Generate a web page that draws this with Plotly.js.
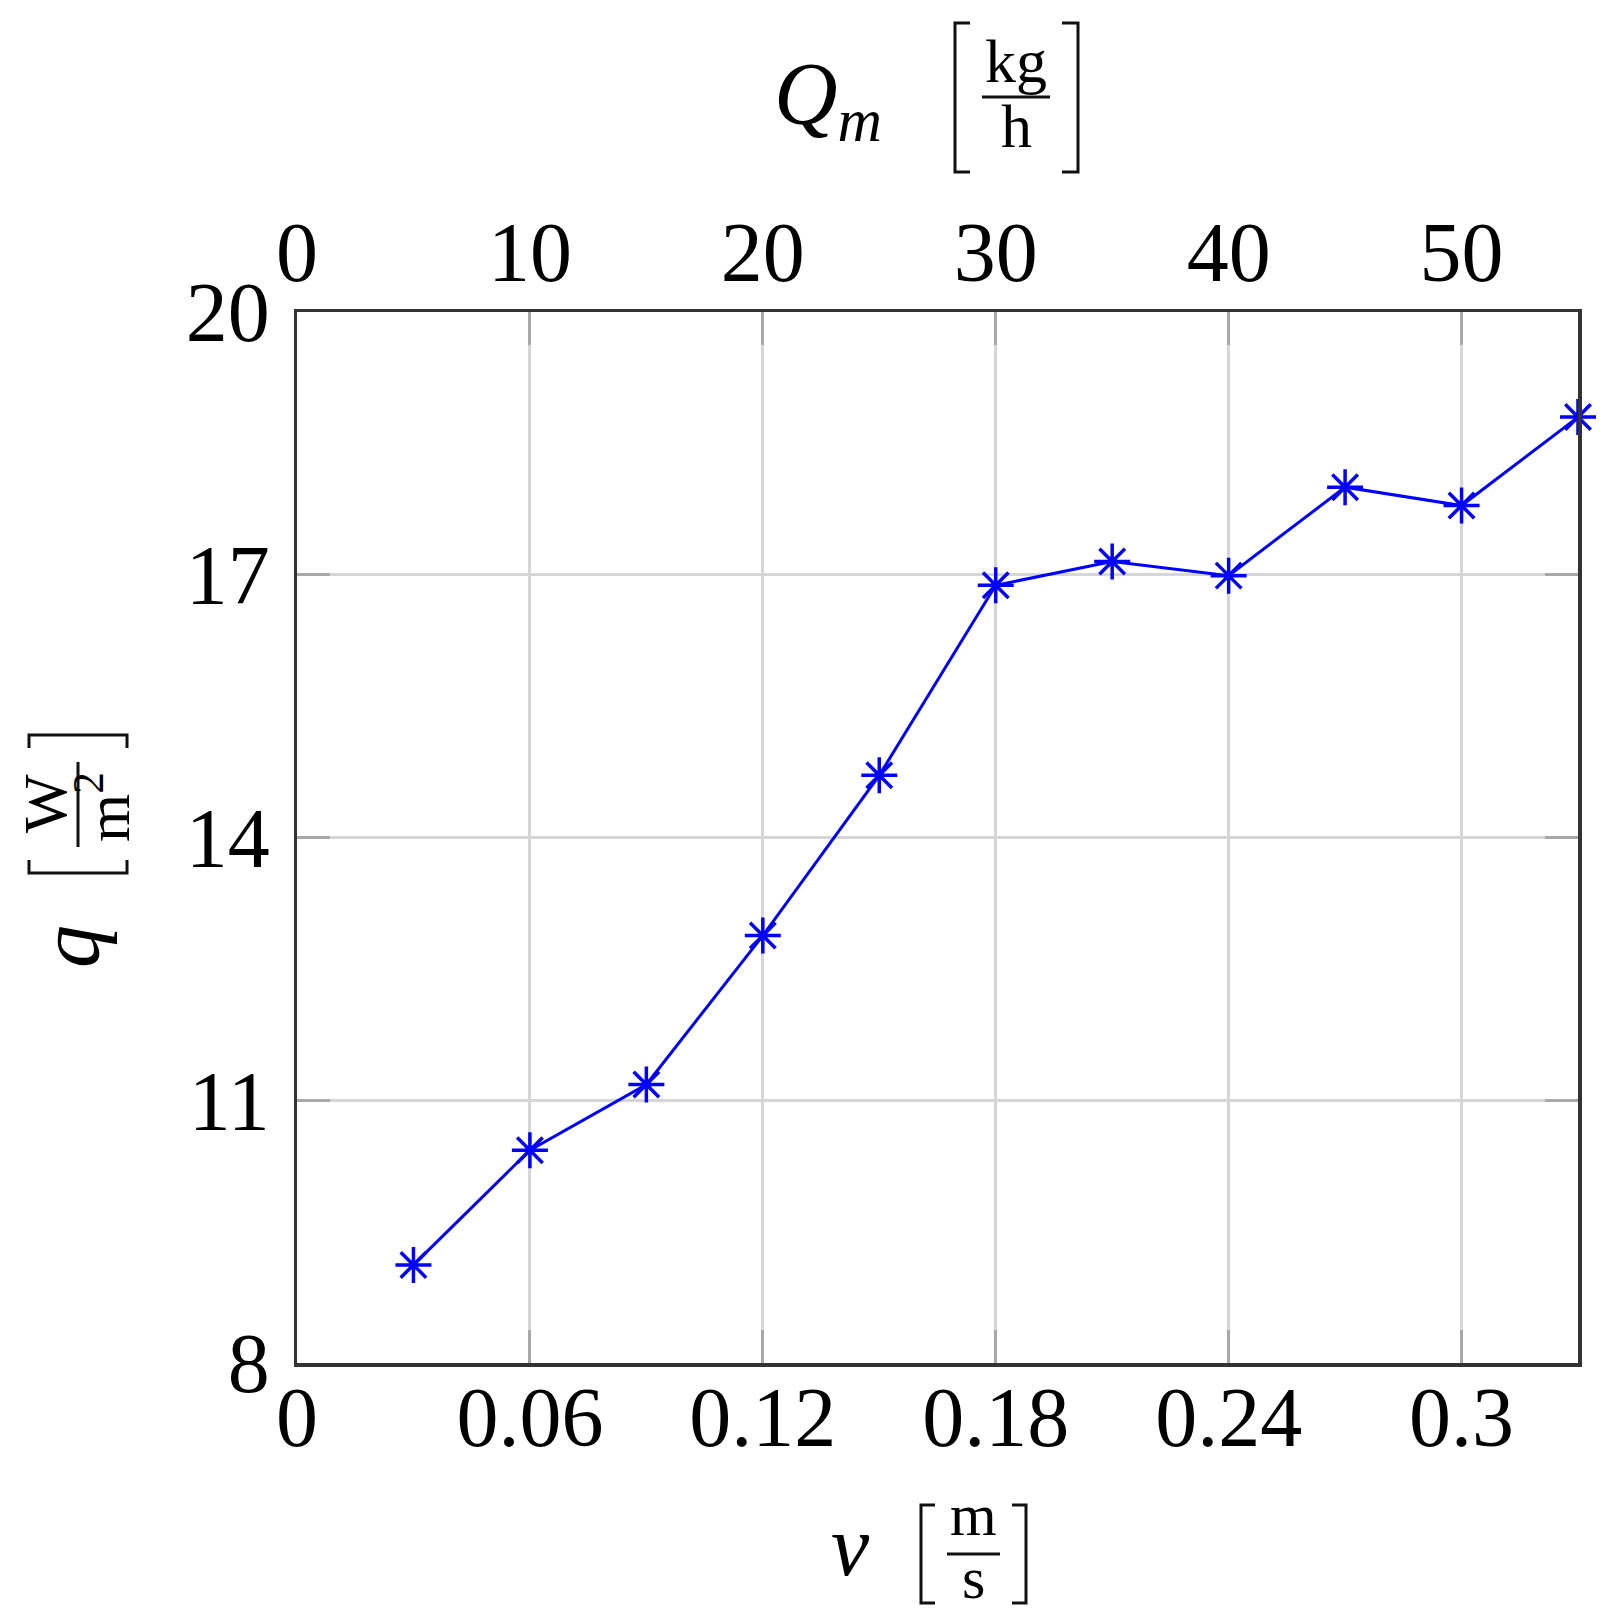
<!DOCTYPE html>
<html>
<head>
<meta charset="utf-8">
<script src="https://cdn.plot.ly/plotly-3.0.1.min.js"></script>
<style>html,body{margin:0;padding:0;background:#fff;}</style>
</head>
<body>
<div id="chart" style="width:1618px;height:1622px;"></div>
<script>
// ---- data ----
const velocity = [0.03, 0.06, 0.09, 0.12, 0.15, 0.18, 0.21, 0.24, 0.27, 0.30, 0.33];
const heatFlux = [9.12, 10.43, 11.18, 12.88, 14.71, 16.88, 17.15, 16.99, 18.00, 17.79, 18.80];
const vTicks = [0, 0.06, 0.12, 0.18, 0.24, 0.3];
const vTickLabels = ['0', '0.06', '0.12', '0.18', '0.24', '0.3'];
const qmRange = [0, 55];
const qmTicks = [0, 10, 20, 30, 40, 50];
const qTicks = [8, 11, 14, 17, 20];

// ---- layout helpers ----
const W = 1618, H = 1622;
const L = 297, R = 1578, T = 312, B = 1363;
const px = x => (x - L) / (R - L);
const py = y => (B - y) / (B - T);
const FONT = 'Liberation Serif, DejaVu Serif, serif';

function ann(text, x, y, size, angle) {
  return {text: text, x: px(x), y: py(y), xref: 'paper', yref: 'paper',
    showarrow: false, xanchor: 'center', yanchor: 'middle',
    textangle: angle || 0, font: {family: FONT, size: size, color: '#000'}};
}
function pathShape(pts) {
  let d = pts.map((p, i) => (i ? 'L ' : 'M ') + px(p[0]) + ' ' + py(p[1])).join(' ');
  return {type: 'path', path: d, xref: 'paper', yref: 'paper',
    line: {color: '#111', width: 3}};
}

const traces = [{
  x: velocity, y: heatFlux, type: 'scatter', mode: 'lines+markers',
  line: {color: '#0000ff', width: 3},
  marker: {symbol: 'asterisk-open', size: 30, color: '#0000ff', line: {color: '#0000ff', width: 3.5}},
  cliponaxis: false, hoverinfo: 'skip'
}, {
  x: [], y: [], xaxis: 'x2', yaxis: 'y', type: 'scatter', mode: 'markers',
  showlegend: false, hoverinfo: 'skip'
}];

const axisCommon = {
  showline: true, linecolor: '#333', linewidth: 3.5,
  ticks: 'inside', ticklen: 33, tickwidth: 3, tickcolor: '#a8a8a8',
  tickfont: {family: FONT, size: 84, color: '#000'},
  zeroline: false
};

const layout = {
  width: W, height: H, autosize: false,
  margin: {l: L, r: W - R, t: T, b: H - B, pad: 0},
  paper_bgcolor: '#fff', plot_bgcolor: '#fff',
  showlegend: false,
  xaxis: Object.assign({}, axisCommon, {
    range: [0, 0.33], tickvals: vTicks, ticktext: vTickLabels,
    showgrid: true, gridcolor: '#d6d6d6', gridwidth: 3,
    mirror: false, ticklabelstandoff: -21
  }),
  xaxis2: Object.assign({}, axisCommon, {
    range: qmRange, tickvals: qmTicks, overlaying: 'x', side: 'top', anchor: 'y',
    showgrid: false, ticklabelstandoff: -6
  }),
  yaxis: Object.assign({}, axisCommon, {
    range: [8, 20], tickvals: qTicks,
    showgrid: true, gridcolor: '#d6d6d6', gridwidth: 3,
    mirror: 'ticks', ticklabelstandoff: 7
  }),
  annotations: [
    // bottom title: v [m/s]
    ann('<i>v</i>', 850, 1546, 86),
    ann('m', 973, 1515, 60),
    ann('s', 973, 1578, 60),
    // top title: Q_m [kg/h]
    ann('<i>Q<sub>m</sub></i>', 828, 100, 88),
    ann('kg', 1016, 61, 62),
    ann('h', 1016, 126, 62),
    // left title: q [W/m^2]
    ann('<i>q</i>', 69, 947, 86, -90),
    ann('W', 45, 804, 62, -90),
    ann('m<sup>2</sup>', 103, 807, 62, -90)
  ],
  shapes: [
    // bottom fraction bar & brackets
    pathShape([[947, 1554], [1000, 1554]]),
    pathShape([[935, 1505], [921, 1505], [921, 1603], [935, 1603]]),
    pathShape([[1012, 1505], [1026, 1505], [1026, 1603], [1012, 1603]]),
    // top fraction bar & brackets
    pathShape([[982, 97], [1050, 97]]),
    pathShape([[970, 23], [955, 23], [955, 172], [970, 172]]),
    pathShape([[1062, 23], [1078, 23], [1078, 172], [1062, 172]]),
    // left fraction bar & brackets
    pathShape([[78, 762], [78, 847]]),
    pathShape([[29, 748], [29, 735], [127, 735], [127, 748]]),
    pathShape([[29, 860], [29, 873], [127, 873], [127, 860]])
  ]
};

Plotly.newPlot('chart', traces, layout, {staticPlot: true, displayModeBar: false});
</script>
</body>
</html>
